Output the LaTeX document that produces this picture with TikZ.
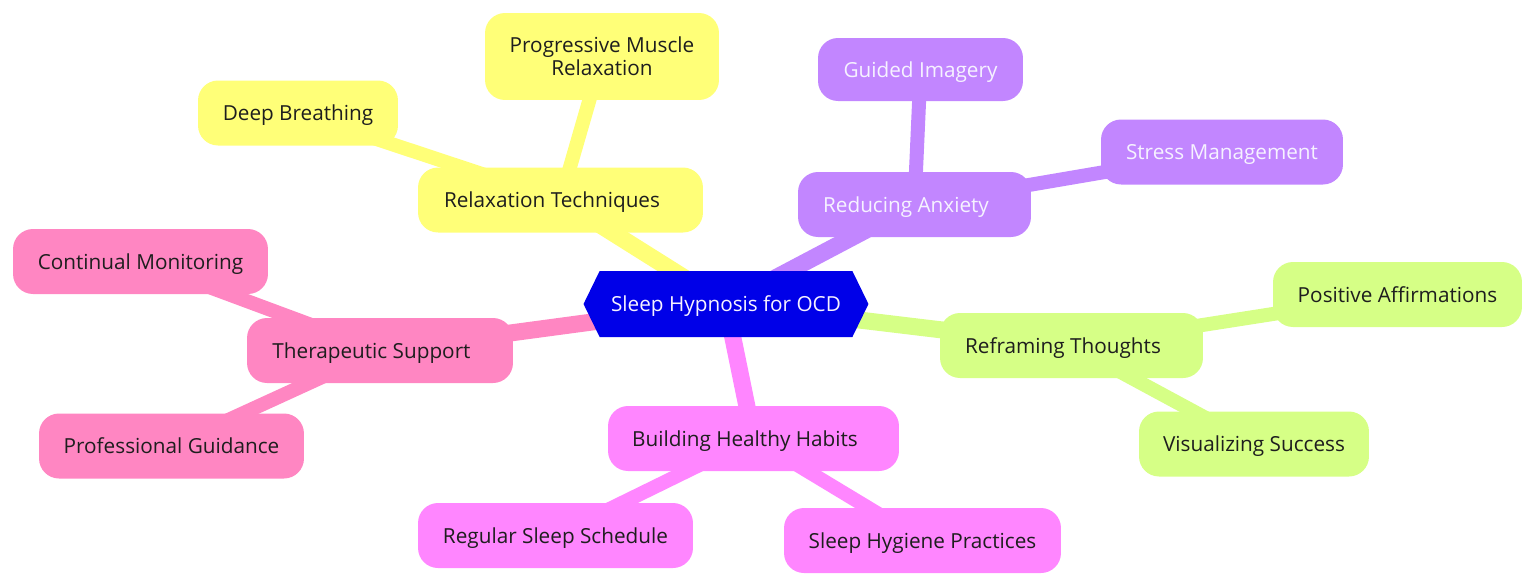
\documentclass[tikz,border=0pt]{standalone}
\usepackage{fontspec}
\setmainfont{Open Sans}
\usetikzlibrary{shapes,positioning}
\pgfdeclarelayer{edges}
\pgfsetlayers{edges,main}

\definecolor{hubblue}{HTML}{0000E8}
\definecolor{relaxyellow}{HTML}{FFFF78}
\definecolor{anxietypurple}{HTML}{C286FF}
\definecolor{reframegreen}{HTML}{D6FF86}
\definecolor{habitmagenta}{HTML}{FF86FF}
\definecolor{supportpink}{HTML}{FF86C2}
\definecolor{labeldark}{HTML}{1E1E1E}
\definecolor{labellight}{HTML}{F6F2FF}

\tikzset{
  hub/.style={signal, signal to=east and west, signal pointer angle=128, fill=hubblue, text=labellight, minimum width=5.7cm, minimum height=1.32cm, inner xsep=2pt, text depth=0pt},
  topic/.style={rounded corners=0.4cm, minimum height=1.3cm, text=labeldark, align=center, inner sep=0pt, text depth=0pt},
  branch/.style={topic, execute at end node={\hspace{0.34cm}}},
  trunk/.style={line width=0.34cm},
  twig/.style={line width=0.28cm}
}

\begin{document}
\begin{tikzpicture}[x=0.02cm,y=-0.02cm,font=\fontsize{11.8}{13.1}\selectfont]
  \useasboundingbox (0,0) rectangle (1536,586);

  \node[hub] (root) at (726,304) {Sleep Hypnosis for OCD};

  \node[branch, fill=relaxyellow, minimum width=5.7cm] (relax) at (560.5,200) {Relaxation Techniques};
  \node[topic, fill=relaxyellow, minimum width=4cm] (breathing) at (298,113) {Deep Breathing};
  \node[topic, fill=relaxyellow, minimum width=4.68cm, minimum height=1.74cm] (muscle) at (602,56.5) {Progressive Muscle\\Relaxation};

  \node[branch, fill=anxietypurple, text=labellight, minimum width=4.66cm] (anxiety) at (914.5,204.5) {Reducing Anxiety};
  \node[topic, fill=anxietypurple, text=labellight, minimum width=4.1cm, minimum height=1.26cm] (imagery) at (920.5,69.5) {Guided Imagery};
  \node[topic, fill=anxietypurple, text=labellight, minimum width=4.84cm] (stress) at (1222,152) {Stress Management};

  \node[branch, fill=reframegreen, minimum width=5.26cm] (reframe) at (1071.5,345.5) {Reframing Thoughts};
  \node[topic, fill=reframegreen, minimum width=4.98cm] (affirm) at (1397.5,294.5) {Positive Affirmations};
  \node[topic, fill=reframegreen, minimum width=4.6cm] (success) at (1254,444) {Visualizing Success};

  \node[branch, fill=habitmagenta, minimum width=5.82cm] (habits) at (753.5,438.5) {Building Healthy Habits};
  \node[topic, fill=habitmagenta, minimum width=5.5cm] (schedule) at (555.5,535.5) {Regular Sleep Schedule};
  \node[topic, fill=habitmagenta, minimum width=5.54cm] (hygiene) at (922.5,540.5) {Sleep Hygiene Practices};

  \node[branch, fill=supportpink, minimum width=5.32cm] (support) at (380,350.5) {Therapeutic Support};
  \node[topic, fill=supportpink, minimum width=5.1cm] (monitor) at (140.5,261.5) {Continual Monitoring};
  \node[topic, fill=supportpink, minimum width=5.3cm] (guidance) at (171.5,446) {Professional Guidance};

  \begin{pgfonlayer}{edges}
    \draw[trunk, relaxyellow] (root.center) -- (relax.center);
    \draw[trunk, anxietypurple] (root.center) -- (anxiety.center);
    \draw[trunk, reframegreen] (root.center) -- (reframe.center);
    \draw[trunk, habitmagenta] (root.center) -- (habits.center);
    \draw[trunk, supportpink] (root.center) -- (support.center);

    \draw[twig, relaxyellow] (relax.center) -- (breathing.center);
    \draw[twig, relaxyellow] (relax.center) -- (muscle.center);
    \draw[twig, anxietypurple] (anxiety.center) -- (imagery.center);
    \draw[twig, anxietypurple] (anxiety.center) -- (stress.center);
    \draw[twig, reframegreen] (reframe.center) -- (affirm.center);
    \draw[twig, reframegreen] (reframe.center) -- (success.center);
    \draw[twig, habitmagenta] (habits.center) -- (schedule.center);
    \draw[twig, habitmagenta] (habits.center) -- (hygiene.center);
    \draw[twig, supportpink] (support.center) -- (monitor.center);
    \draw[twig, supportpink] (support.center) -- (guidance.center);
  \end{pgfonlayer}
\end{tikzpicture}
\end{document}
